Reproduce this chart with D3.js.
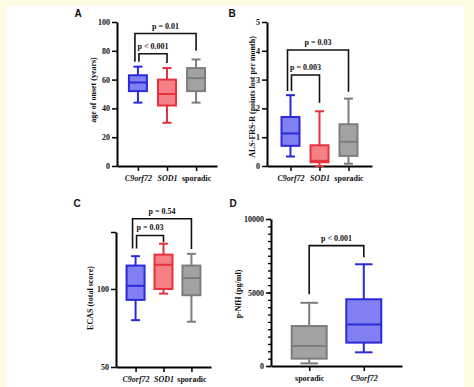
<!DOCTYPE html>
<html>
<head>
<meta charset="utf-8">
<script src="https://cdn.jsdelivr.net/npm/d3@7"></script>
<style>
  body { margin: 0; background: #fdfbe4; }
  svg { display: block; }
  .tick text { font-family: "Liberation Serif", serif; font-weight: bold; font-size: 8px; fill: #111; }
  .lbl { font-family: "Liberation Serif", serif; font-weight: bold; font-size: 8px; fill: #111; }
  .letter { font-family: "Liberation Sans", Arial, sans-serif; font-weight: bold; font-size: 10px; fill: #111; }
</style>
</head>
<body>
<div id="chart"></div>
<script>
// categories
let catsABC = ["C9orf72", "SOD1", "sporadic"];
let catsD = ["sporadic", "C9orf72"];

// box stats: [min, q1, median, q3, max]
let onsetStats = [[44, 52, 58, 63, 69], [30, 42, 50, 60, 68], [44, 52, 61, 68, 74]];
let alsfrsStats = [[0.33, 0.7, 1.13, 1.7, 2.46], [0.0, 0.13, 0.18, 0.72, 1.9], [0.08, 0.35, 0.84, 1.45, 2.34]];
let ecasStats = [[80, 93, 102, 115, 121], [97, 100, 115.5, 122, 129], [79, 96, 107, 115, 122.5]];
let nfhStats = [[180, 500, 1360, 2720, 4300], [930, 1590, 2830, 4540, 6920]];

// significance brackets: [from, to, top, fromEnd, toEnd, label]
let onsetSig = [[0, 1, 78, 72.4, 71.5, "p < 0.001"], [0, 2, 92, 72.4, 80, "p = 0.01"]];
let alsfrsSig = [[0, 1, 3.16, 2.6, 2.2, "p = 0.003"], [0, 2, 4.03, 2.6, 2.58, "p = 0.03"]];
let ecasSig = [[0, 1, 134.3, 126, 130, "p = 0.03"], [0, 2, 145, 126, 125.6, "p = 0.54"]];
let nfhSig = [[0, 1, 8190, 4880, 7400, "p < 0.001"]];

// tick values
let onsetTicks = [0, 20, 40, 60, 80, 100];
let alsfrsTicks = [0, 1, 2, 3, 4, 5];
let ecasTicks = [50, 100, 136.5];
let nfhTicks = [0, 5000, 10000];
let nfhMinor = d3.range(0, 10001, 500);

let colors = {
    "C9orf72": {stroke: "#2a2ad9", fill: "#8080f2"},
    "SOD1": {stroke: "#e6323c", fill: "#f58186"},
    "sporadic": {stroke: "#7d7d7d", fill: "#a2a2a2"}
};
let italicCats = ["C9orf72", "SOD1"];

let svg = d3.select("#chart").append("svg")
    .attr("width", 474)
    .attr("height", 387);

svg.append("rect")
    .attr("x", 6).attr("y", 6)
    .attr("width", 458).attr("height", 381)
    .attr("fill", "#fff");

function drawPanel(p) {
    let g = svg.append("g");

    let x = d3.scalePoint()
        .domain(p.cats)
        .range([p.x0, p.x1])
        .padding(p.pad);

    let y = d3.scaleLinear()
        .domain(p.yDomain)
        .range([p.yBottom, p.yTop]);

    // minor ticks
    if (p.minor) {
        g.append("g")
            .attr("transform", "translate(" + p.x0 + ",0)")
            .call(d3.axisLeft(y).tickValues(p.minor).tickSize(3).tickFormat(""))
            .call(a => a.select(".domain").remove())
            .selectAll("line").attr("stroke-width", 1.3);
    }

    let yAxis = d3.axisLeft(y)
        .tickValues(p.ticks)
        .tickSize(5)
        .tickSizeOuter(0)
        .tickPadding(2)
        .tickFormat(d => p.labelled.includes(d) ? d : "");

    let yg = g.append("g")
        .attr("transform", "translate(" + p.x0 + ",0)")
        .call(yAxis);
    yg.select(".domain").attr("stroke-width", 2);
    yg.selectAll(".tick line").attr("stroke-width", 1.5);

    let xAxis = d3.axisBottom(x)
        .tickSize(5)
        .tickSizeOuter(0)
        .tickPadding(4);

    let xg = g.append("g")
        .attr("transform", "translate(0," + p.yBottom + ")")
        .call(xAxis);
    xg.select(".domain").attr("stroke-width", 2);
    xg.selectAll(".tick line").attr("stroke-width", 1.5);
    xg.selectAll(".tick text")
        .style("font-style", d => italicCats.includes(d) ? "italic" : "normal");

    // boxes
    let bw = p.boxWidth;
    let boxes = g.selectAll(".box")
        .data(p.stats)
        .enter()
        .append("g")
        .attr("class", "box");

    boxes.each(function(d, i) {
        let c = colors[p.cats[i]];
        let cx = x(p.cats[i]);
        let b = d3.select(this);

        b.append("line")
            .attr("x1", cx).attr("x2", cx)
            .attr("y1", y(d[0])).attr("y2", y(d[1]))
            .attr("stroke", c.stroke).attr("stroke-width", 2);
        b.append("line")
            .attr("x1", cx).attr("x2", cx)
            .attr("y1", y(d[3])).attr("y2", y(d[4]))
            .attr("stroke", c.stroke).attr("stroke-width", 2);
        [d[0], d[4]].forEach(v => {
            b.append("line")
                .attr("x1", cx - bw / 4).attr("x2", cx + bw / 4)
                .attr("y1", y(v)).attr("y2", y(v))
                .attr("stroke", c.stroke).attr("stroke-width", 2);
        });
        b.append("rect")
            .attr("x", cx - bw / 2)
            .attr("y", y(d[3]))
            .attr("width", bw)
            .attr("height", y(d[1]) - y(d[3]))
            .attr("fill", c.fill)
            .attr("stroke", c.stroke)
            .attr("stroke-width", 2);
        b.append("line")
            .attr("x1", cx - bw / 2).attr("x2", cx + bw / 2)
            .attr("y1", y(d[2])).attr("y2", y(d[2]))
            .attr("stroke", c.stroke).attr("stroke-width", 2);
    });

    // brackets
    p.sig.forEach(s => {
        let shift = p.sig.length > 1 ? (s[1] - s[0] > 1 ? -3 : 1) : 0;
        let xa = x(p.cats[s[0]]) + shift;
        let xb = x(p.cats[s[1]]);
        g.append("path")
            .attr("d", "M" + xa + "," + y(s[3]) + "V" + y(s[2]) + "H" + xb + "V" + y(s[4]))
            .attr("fill", "none")
            .attr("stroke", "#111")
            .attr("stroke-width", 1.6);
        g.append("text")
            .attr("class", "lbl")
            .attr("x", (xa + xb) / 2)
            .attr("y", y(s[2]) - 5)
            .attr("text-anchor", "middle")
            .text(s[5]);
    });

    g.append("text")
        .attr("class", "lbl")
        .attr("transform", "translate(" + p.titleX + "," + p.titleY + ") rotate(-90)")
        .attr("text-anchor", "middle")
        .attr("dominant-baseline", "central")
        .text(p.title);

    g.append("text")
        .attr("class", "letter")
        .attr("x", p.letterX)
        .attr("y", p.letterY)
        .attr("text-anchor", "middle")
        .text(p.letter);
}

drawPanel({cats: catsABC, stats: onsetStats, sig: onsetSig, ticks: onsetTicks, labelled: onsetTicks,
    yDomain: [0, 100], x0: 117, x1: 217, pad: 0.72, yBottom: 166, yTop: 22, boxWidth: 18,
    title: "age of onset (years)", titleX: 93, titleY: 90, letter: "A", letterX: 78, letterY: 17});

drawPanel({cats: catsABC, stats: alsfrsStats, sig: alsfrsSig, ticks: alsfrsTicks, labelled: alsfrsTicks,
    yDomain: [0, 5], x0: 267, x1: 372, pad: 0.81, yBottom: 166, yTop: 22, boxWidth: 18,
    title: "ALS-FRS-R (points lost per month)", titleX: 252, titleY: 97, letter: "B", letterX: 232, letterY: 17});

drawPanel({cats: catsABC, stats: ecasStats, sig: ecasSig, ticks: ecasTicks, labelled: [50, 100],
    yDomain: [50, 136.5], x0: 116, x1: 211, pad: 0.7, yBottom: 367, yTop: 232, boxWidth: 18,
    title: "ECAS (total score)", titleX: 90, titleY: 298, letter: "C", letterX: 77, letterY: 207});

drawPanel({cats: catsD, stats: nfhStats, sig: nfhSig, ticks: nfhTicks, labelled: nfhTicks, minor: nfhMinor,
    yDomain: [0, 10000], x0: 271, x1: 402, pad: 0.7, yBottom: 366, yTop: 219, boxWidth: 35,
    title: "p-NfH (pg/ml)", titleX: 238, titleY: 294, letter: "D", letterX: 233, letterY: 207});
</script>
</body>
</html>
